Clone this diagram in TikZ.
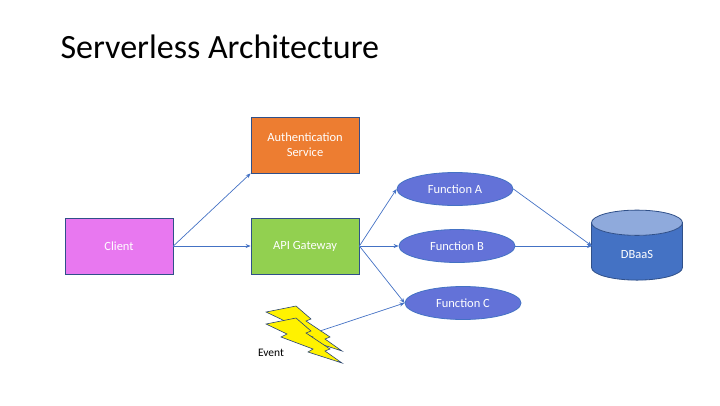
\documentclass[tikz,border=0pt]{standalone}
\usepackage{fontspec}
\setmainfont{Carlito}
\usetikzlibrary{shapes.geometric,arrows.meta}
\definecolor{ln}{HTML}{4472C4}
\definecolor{fn}{HTML}{6372D8}
\begin{document}
\begin{tikzpicture}[x=1pt,y=-1pt,
 box/.style={draw=ln!70!black,line width=0.8pt,minimum width=108pt,minimum height=56pt,text=white,font=\fontsize{12.5}{15}\selectfont,align=center},
 fun/.style={ellipse,draw=ln,fill=fn,line width=0.8pt,minimum width=116pt,minimum height=33pt,text=white,font=\fontsize{12.5}{15}\selectfont},
 arr/.style={draw=ln,line width=0.7pt,-{Stealth[length=5pt,width=4pt]}},
 bolt/.style={draw=ln!60!black,fill=yellow,line width=0.6pt}]
\useasboundingbox (0,0) rectangle (720,405);
\node[anchor=base west,font=\fontsize{34}{36}\selectfont] (title) at (57,58) {Serverless Architecture};
\node[box,fill={rgb,255:red,237;green,125;blue,49}] (auth) at (305,145) {Authentication\\Service};
\node[box,fill={rgb,255:red,232;green,120;blue,240}] (client) at (119,246) {Client};
\node[box,fill={rgb,255:red,146;green,208;blue,80}] (api) at (305,246) {API Gateway};
\node[fun] (fa) at (455,189) {Function A};
\node[fun] (fb) at (457,246) {Function B};
\node[fun] (fc) at (463,303) {Function C};
\node[cylinder,shape border rotate=90,aspect=0.65,draw=ln!70!black,line width=0.8pt,cylinder uses custom fill,cylinder body fill=ln,cylinder end fill={rgb,255:red,143;green,170;blue,220},minimum width=91pt,minimum height=70pt,text=white,font=\fontsize{12.5}{15}\selectfont] (db) at (637,254) {DBaaS};
\foreach \dy in {0,12}{
 \draw[bolt] (266,312+\dy) -- (296,306+\dy) -- (311,319+\dy) -- (306,321+\dy) -- (330,337+\dy) -- (325,339+\dy) -- (342,351+\dy) -- (308,340+\dy) -- (313,337+\dy) -- (281,325+\dy) -- (287,322+\dy) -- cycle;
}
\coordinate (ev) at (320,331);
\coordinate (dbin) at (592,246);
\node[font=\fontsize{11.5}{13}\selectfont] (evl) at (271,353) {Event};
\draw[arr] (client.east) -- (auth.south west);
\draw[arr] (client.east) -- (api.west);
\draw[arr] (api.east) -- (fa.west);
\draw[arr] (api.east) -- (fb.west);
\draw[arr] (api.east) -- (fc.west);
\draw[arr] (fa.east) -- (dbin);
\draw[arr] (fb.east) -- (dbin);
\draw[arr] (ev) -- (fc.west);
\end{tikzpicture}
\end{document}
